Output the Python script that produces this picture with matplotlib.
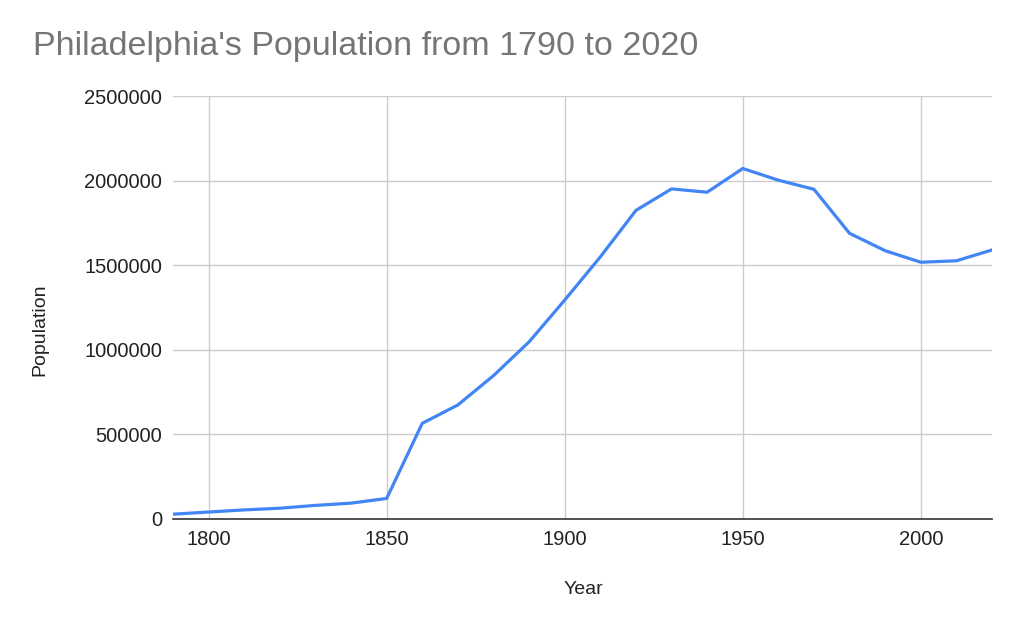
import matplotlib
matplotlib.use("Agg")
import matplotlib.pyplot as plt

years = [1790, 1800, 1810, 1820, 1830, 1840, 1850, 1860, 1870, 1880, 1890, 1900,
         1910, 1920, 1930, 1940, 1950, 1960, 1970, 1980, 1990, 2000, 2010, 2020]
population = [28522, 41220, 53722, 63802, 80462, 93665, 121376, 565529, 674022,
              847170, 1046964, 1293697, 1549008, 1823779, 1950961, 1931334,
              2071605, 2002512, 1948609, 1688210, 1585577, 1517550, 1526006, 1590000]
x_ticks = [1800, 1850, 1900, 1950, 2000]
y_ticks = [0, 500000, 1000000, 1500000, 2000000, 2500000]

plt.rcParams["font.family"] = ["Liberation Sans", "DejaVu Sans"]

fig = plt.figure(figsize=(10.24, 6.33), dpi=100)
ax = fig.add_axes([173 / 1024, 1 - 519 / 633, (992 - 173) / 1024, (519 - 96) / 633])

ax.plot(years, population, color="#4285F4", linewidth=2.3, solid_joinstyle="round", zorder=3)

ax.set_xlim(1790, 2020)
ax.set_ylim(0, 2500000)
ax.set_xticks(x_ticks)
ax.set_yticks(y_ticks)
ax.set_xticklabels([str(t) for t in x_ticks])
ax.set_yticklabels([str(t) for t in y_ticks])
ax.tick_params(axis="both", length=0, labelsize=14.5, colors="#222222")
ax.tick_params(axis="x", pad=8)
ax.tick_params(axis="y", pad=8)

ax.grid(True, color="#cccccc", linewidth=1.0)
ax.set_axisbelow(True)
for side in ["top", "right", "left"]:
    ax.spines[side].set_visible(False)
ax.spines["bottom"].set_color("#333333")
ax.spines["bottom"].set_linewidth(1.2)
ax.spines["bottom"].set_zorder(4)

# axis titles placed by figure pixel position
fig.text(583 / 1024, 1 - 590 / 633, "Year", fontsize=14, color="#222222",
         ha="center", va="center")
fig.text(40 / 1024, 1 - 330 / 633, "Population", fontsize=14, color="#222222",
         ha="center", va="center", rotation=90)

fig.text(33 / 1024, 1 - 47 / 633, "Philadelphia's Population from 1790 to 2020",
         fontsize=24.5, color="#757575", va="center", ha="left")

fig.savefig("out.png", dpi=100)
